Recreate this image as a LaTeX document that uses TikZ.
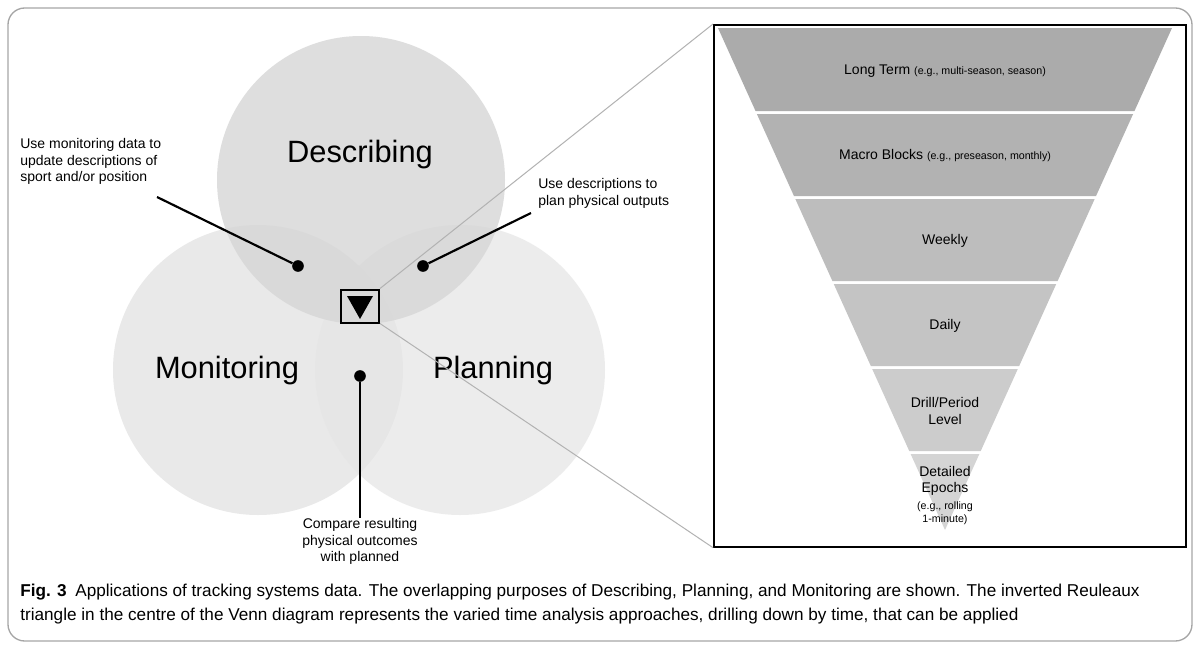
\documentclass[tikz,border=0pt]{standalone}
\usepackage{fontspec}
\setmainfont{Liberation Sans}
\newcommand\mysmallfont{\fontsize{6.4}{7.5}\selectfont}
\begin{document}
\begin{tikzpicture}[x=0.6pt,y=-0.6pt,
  lbl/.style={font=\fontsize{8.4}{10}\selectfont,align=left,inner sep=0},
  big/.style={font=\fontsize{18.5}{20}\selectfont,inner sep=0},
  ft/.style={font=\fontsize{8.4}{10}\selectfont,align=center,inner sep=0},
  sm/.style={font=\mysmallfont,align=center,inner sep=0},
  dot/.style={circle,fill=black,inner sep=0,minimum size=7pt},
  lead/.style={line width=1.3pt},
  zoom/.style={gray!60,line width=0.6pt}]
\useasboundingbox (0,0) rectangle (1200,649);
\draw[gray!70,line width=0.8pt,rounded corners=10pt,fill=white] (8,8) rectangle (1192,641);
% venn
\fill[black!12,opacity=0.7] (258,370) circle (145);
\fill[black!10,opacity=0.7] (460,370) circle (145);
\fill[black!16,opacity=0.8] (361,180) circle (144);
\node[big] (desc) at (360,155) {Describing};
\node[big] (mon) at (227,371) {Monitoring};
\node[big] (plan) at (493,371) {Planning};
% small box
\node[draw,line width=1.2pt,minimum width=22.8pt,minimum height=19.8pt,inner sep=0] (box) at (360,306) {};
\fill (347,296) -- (373,296) -- (360,319) -- cycle;
% inner box and funnel
\node[draw,line width=1.2pt,minimum width=283pt,minimum height=313pt,inner sep=0,anchor=north west] (ibox) at (713,24) {};
\draw[zoom] (box.north east) -- (ibox.north west);
\draw[zoom] (box.south east) -- (ibox.south west);
\foreach \ya/\yb/\c in {28/111/black!33,114/196/black!30,199/281/black!26,284/366/black!23,369/451/black!20,454/530/black!17}{
  \pgfmathsetmacro\ha{0.4522*(530-\ya)}
  \pgfmathsetmacro\hb{0.4522*(530-\yb)}
  \fill[\c] (945-\ha,\ya) -- (945+\ha,\ya) -- (945+\hb,\yb) -- (945-\hb,\yb) -- cycle;
}
\node[ft] (t1) at (945,71) {Long Term {\mysmallfont (e.g., multi-season, season)}};
\node[ft] (t2) at (945,156) {Macro Blocks {\mysmallfont (e.g., preseason, monthly)}};
\node[ft] (t3) at (945,241) {Weekly};
\node[ft] (t4) at (945,326) {Daily};
\node[ft] (t5) at (945,411) {Drill/Period\\Level};
\node[ft] (t6) at (945,481) {Detailed\\Epochs};
\node[sm] (t7) at (945,513) {(e.g., rolling\\1-minute)};
% dots and leaders
\node[dot] (d1) at (298,266) {};
\node[dot] (d2) at (423,266) {};
\node[dot] (d3) at (360,376) {};
\node[lbl,anchor=north west] (l1) at (20,138) {Use monitoring data to\\update descriptions of\\sport and/or position};
\node[lbl,anchor=north west] (l2) at (538,178) {Use descriptions to\\plan physical outputs};
\node[ft,anchor=north] (l3) at (360,518) {Compare resulting\\physical outcomes\\with planned};
\coordinate (c1) at (157,197);
\coordinate (c2) at (531,213);
\draw[lead] (c1) -- (d1);
\draw[lead] (c2) -- (d2);
\draw[lead] (d3) -- (l3.north);
% caption
\node[anchor=north west,align=left,inner sep=0,font=\fontsize{10.3}{14.5}\selectfont] (cap) at (20,584)
 {\textbf{Fig. 3}\enspace Applications of tracking systems data. The overlapping purposes of Describing, Planning, and Monitoring are shown. The inverted Reuleaux\\triangle in the centre of the Venn diagram represents the varied time analysis approaches, drilling down by time, that can be applied};
\end{tikzpicture}
\end{document}
